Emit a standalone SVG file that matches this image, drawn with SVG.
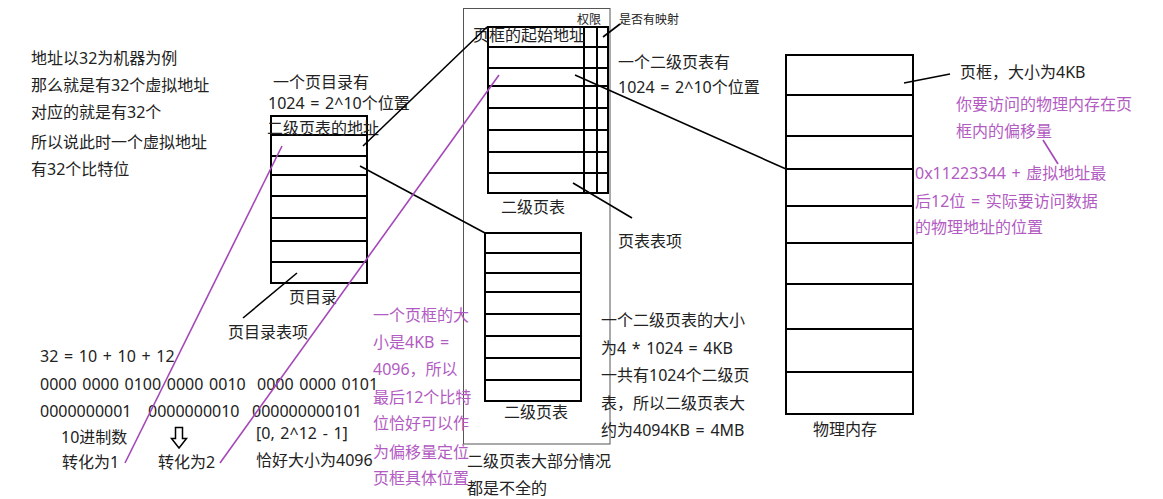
<svg xmlns="http://www.w3.org/2000/svg" width="1163" height="499" viewBox="0 0 1163 499">
<style>
text{font-family:"Noto Sans","Noto Sans CJK SC",sans-serif;font-size:16px;fill:#222;word-spacing:1.5px}
.p{fill:#b25bc2}
.s{font-size:12px}
.tb{fill:#fff;stroke:#000;stroke-width:2}
.row{stroke:#000;stroke-width:2}
.ln{stroke:#000;stroke-width:1.6;fill:none}
.pl{stroke:#a447b8;stroke-width:1.6;fill:none}
</style>
<rect width="1163" height="499" fill="#fff"/>

<g id="outer-frame">
<rect x="463.5" y="8.5" width="146.5" height="435.5" fill="none" stroke="#555" stroke-width="1"/>
</g>

<g id="page-directory">
<rect class="tb" x="271" y="116" width="96" height="167"/>
<path class="row" d="M271 135H367M271 156H367M271 175H367M271 196H367M271 218H367M271 241H367M271 262H367"/>
<text x="273" y="88">一个页目录有</text>
<text x="268" y="109">1024 = 2^10个位置</text>
<text x="267" y="134">二级页表的地址</text>
<text x="289" y="303">页目录</text>
<text x="228" y="338">页目录表项</text>
</g>

<g id="second-level-table-1">
<rect class="tb" x="488" y="27" width="120" height="166"/>
<path class="row" d="M584 27V193M597 27V193M488 47H608M488 68H608M488 86H608M488 108H608M488 130H608M488 152H608M488 173H608"/>
<text x="473" y="41">页框的起始地址</text>
<text class="s" x="577" y="24">权限</text>
<text class="s" x="619" y="24">是否有映射</text>
<text x="501" y="213">二级页表</text>
<text x="618" y="68">一个二级页表有</text>
<text x="618" y="93">1024 = 2^10个位置</text>
<text x="618" y="247">页表表项</text>
</g>

<g id="second-level-table-2">
<rect class="tb" x="485" y="233" width="96" height="168"/>
<path class="row" d="M485 253H581M485 273H581M485 292H581M485 314H581M485 336H581M485 358H581M485 380H581"/>
<text x="504" y="418">二级页表</text>
<text x="467" y="467">二级页表大部分情况</text>
<text x="467" y="494">都是不全的</text>
<text x="601" y="326">一个二级页表的大小</text>
<text x="601" y="354">为4 * 1024 = 4KB</text>
<text x="601" y="381">一共有1024个二级页</text>
<text x="601" y="409">表，所以二级页表大</text>
<text x="601" y="436">约为4094KB = 4MB</text>
</g>

<g id="physical-memory">
<rect class="tb" x="786" y="55" width="127" height="359"/>
<path class="row" d="M786 95H913M786 136H913M786 169H913M786 206H913M786 243H913M786 284H913M786 329H913M786 372H913"/>
<text x="813" y="435">物理内存</text>
<text x="960" y="78">页框，大小为4KB</text>
<text class="p" x="956" y="110">你要访问的物理内存在页</text>
<text class="p" x="956" y="137">框内的偏移量</text>
<text class="p" x="915" y="179">0x11223344 + 虚拟地址最</text>
<text class="p" x="915" y="207">后12位 = 实际要访问数据</text>
<text class="p" x="915" y="233">的物理地址的位置</text>
</g>

<g id="notes-left">
<text x="31" y="64">地址以32为机器为例</text>
<text x="31" y="91">那么就是有32个虚拟地址</text>
<text x="31" y="118">对应的就是有32个</text>
<text x="31" y="148">所以说此时一个虚拟地址</text>
<text x="31" y="175">有32个比特位</text>
</g>

<g id="notes-bits">
<text x="40" y="362">32 = 10 + 10 + 12</text>
<text x="40" y="390" xml:space="preserve">0000 0000 0100 0000 0010  0000 0000 0101</text>
<text x="40" y="417">0000000001</text>
<text x="148" y="417">0000000010</text>
<text x="252" y="417">000000000101</text>
<text x="61" y="443">10进制数</text>
<text x="62" y="468">转化为1</text>
<text x="158" y="468">转化为2</text>
<text x="256" y="439">[0, 2^12 - 1]</text>
<text x="256" y="466">恰好大小为4096</text>
<path d="M175.5 427.5H182.5V438.5H186.5L179 448L171.5 438.5H175.5Z" fill="#fff" stroke="#000" stroke-width="1.5"/>
</g>

<g id="notes-offset">
<text class="p" x="373" y="321">一个页框的大</text>
<text class="p" x="373" y="348">小是4KB =</text>
<text class="p" x="373" y="375">4096，所以</text>
<text class="p" x="373" y="403">最后12个比特</text>
<text class="p" x="373" y="429">位恰好可以作</text>
<text class="p" x="373" y="458">为偏移量定位</text>
<text class="p" x="373" y="484">页框具体位置</text>
</g>

<g id="connectors">
<path class="ln" d="M363 146L487 27"/>
<path class="ln" d="M360 166L485 233"/>
<path class="ln" d="M575 75L786 169"/>
<path class="ln" d="M573 183L632 218"/>
<path class="ln" d="M297 273L243 318"/>
<path class="ln" d="M603 37L620 24"/>
<path class="ln" d="M904 83L950 74"/>
<path class="pl" d="M282 146L125 463"/>
<path class="pl" d="M499 75L220 463"/>
<path class="pl" d="M1043 140L1058 164"/>
</g>
</svg>
